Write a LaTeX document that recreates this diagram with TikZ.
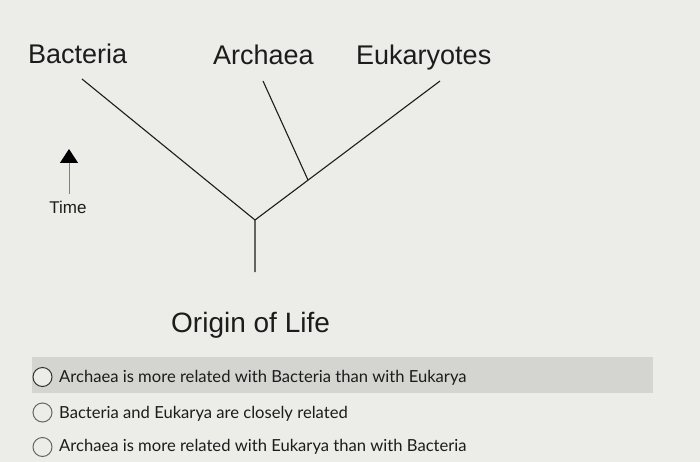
\documentclass[tikz,border=0pt]{standalone}
\usepackage{fontspec}
\setmainfont{Liberation Sans}
\newfontfamily\latofont{Lato}
\usepackage{tikz}
\usetikzlibrary{arrows.meta}
\definecolor{paper}{RGB}{236,236,233}
\definecolor{bargray}{RGB}{212,212,209}
\definecolor{ink}{RGB}{28,28,28}
\tikzstyle{taxon} = [draw=none, inner sep=0pt, anchor=base west, text=ink,
	font=\fontsize{27}{30}\selectfont]
\tikzstyle{branch} = [draw=ink, line width=1.1pt]
\tikzstyle{opt} = [draw=none, inner sep=0pt, anchor=base west, text=ink,
	font=\latofont\fontsize{16.6}{19}\selectfont]
\tikzstyle{radio} = [draw=black!60, fill=paper, line width=1pt, circle,
	minimum size=19pt, inner sep=0pt]

\begin{document}
\begin{tikzpicture}[x=1pt, y=-1pt]
				\useasboundingbox (0,0) rectangle (700,462);
				\fill [paper] (0,0) rectangle (700,462);
				
				\node [taxon] (Bac) at (28,64) {Bacteria};
				\node [taxon] (Arc) at (213,65) {Archaea};
				\node [taxon] (Euk) at (356,65) {Eukaryotes};
				
				\coordinate (bacTip) at (82,79);
				\coordinate (arcTip) at (263,81);
				\coordinate (eukTip) at (440,81);
				\coordinate (J1) at (255,220);
				\coordinate (J2) at (308,180);
				\coordinate (Root) at (255,272);
				\draw [branch] (bacTip) -- (J1) -- (Root);
				\draw [branch] (eukTip) -- (J1);
				\draw [branch] (arcTip) -- (J2);
				
				\coordinate (timeTail) at (69,194);
				\coordinate (timeTip) at (69,149);
				\draw [gray, line width=1pt, -{Triangle[length=14pt,width=18pt,fill=black,color=black]}] (timeTail) -- (timeTip);
				\node [draw=none, inner sep=0pt, anchor=base, text=ink,
					font=\fontsize{17}{20}\selectfont] (Time) at (68,214) {Time};
				
				\node [draw=none, inner sep=0pt, anchor=base west, text=ink,
					font=\fontsize{28}{31}\selectfont] (Origin) at (171,332) {Origin of Life};
				
				\fill [bargray] (32,357) rectangle (653,393);
				\node [radio, draw=black!80] (R1) at (42.5,377) {};
				\node [radio] (R2) at (42.5,412.5) {};
				\node [radio] (R3) at (42.5,447) {};
				\node [opt] (A1) at (59,382.5) {Archaea is more related with Bacteria than with Eukarya};
				\node [opt] (A2) at (59,418) {Bacteria and Eukarya are closely related};
				\node [opt] (A3) at (59,451.5) {Archaea is more related with Eukarya than with Bacteria};
				
\end{tikzpicture}
\end{document}
